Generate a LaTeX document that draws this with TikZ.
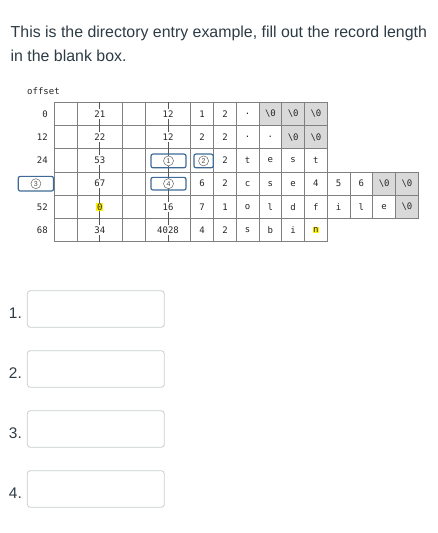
\documentclass[tikz,border=0pt]{standalone}
\usepackage{fontspec}
\setmainfont{Liberation Sans}
\newfontfamily\monof{DejaVu Sans Mono}
\definecolor{txt}{HTML}{2D3B45}
\definecolor{gridc}{HTML}{808080}
\definecolor{tickc}{HTML}{555555}
\definecolor{nulc}{HTML}{D9D9D9}
\definecolor{boxc}{HTML}{3E6A97}
\definecolor{ansc}{HTML}{C7CDD1}
\newcommand\zNul{\textbackslash 0}
\tikzset{
  titletext/.style={font=\fontsize{15.9}{18}\selectfont, text=txt, inner sep=0},
  cellline/.style={draw=gridc, line width=0.9pt},
  tickline/.style={draw=tickc, line width=0.9pt},
  val/.style={font=\monof\fontsize{9}{10}\selectfont, text=black!85, inner sep=1.5pt},
  valw/.style={val, fill=white},
  hl/.style={val, fill=yellow, inner sep=0.6pt},
  tagbox/.style={draw=boxc, line width=1.2pt, rounded corners=2pt, inner sep=0},
  circnum/.style={circle, draw=black!60, line width=0.5pt, fill=white, inner sep=0,
                  minimum size=10pt, font=\fontsize{7}{7}\selectfont, text=black!70},
  ansbox/.style={draw=ansc, line width=0.8pt, rounded corners=3pt,
                 minimum width=137pt, minimum height=36.6pt, inner sep=0},
  anslabel/.style={font=\fontsize{15.4}{18}\selectfont, text=txt, anchor=base east, inner sep=0},
}
\begin{document}
\begin{tikzpicture}[x=1pt,y=-1pt]
\useasboundingbox (0,0) rectangle (438,533);
% title
\node[titletext, anchor=base west] (t1) at (10.5,37.3) {This is the directory entry example, fill out the record length};
\node[titletext, anchor=base west] (t2) at (10.5,61.5) {in the blank box.};
\node[val, anchor=west, inner sep=0] (offh) at (27,90.7) {offset};
% null cells
\foreach \r/\c in {0/9,0/10,0/11,1/10,1/11,3/14,3/15,4/15}
  \fill[nulc] ({54.3+22.75*\c},{102.3+23.23*\r}) rectangle ++(22.75,23.23);
% grid
\foreach \r/\n in {0/12,1/12,2/12,3/16,4/16,5/12}
  \foreach \c in {1,...,\n}
    \draw[cellline] ({54.3+22.75*(\c-1)},{102.3+23.23*\r}) rectangle ++(22.75,23.23);
% centre lines of multi-byte fields
\foreach \c in {2,5}
  \draw[tickline] ({54.3+22.75*\c},102.3) -- ({54.3+22.75*\c},241.7);
% offsets
\foreach \r/\o in {0/0,1/12,2/24,4/52,5/68}
  \node[val, anchor=east] (off\r) at (49.5,{113.9+23.23*\r}) {\o};
% inode
\foreach \r/\v in {0/21,1/22,2/53,3/67,5/34}
  \node[valw] (ino\r) at (99.8,{113.9+23.23*\r}) {\v};
\node[hl] (ino4) at (99.8,{113.9+23.23*4}) {0};
% rec_len
\foreach \r/\v in {0/12,1/12,4/16,5/4028}
  \node[valw] (rec\r) at (168.05,{113.9+23.23*\r}) {\v};
% name_len
\foreach \r/\v in {0/1,1/2,3/6,4/7,5/4}
  \node[val] (nl\r) at (202.2,{113.9+23.23*\r}) {\v};
% file type
\foreach \r/\v in {0/2,1/2,2/2,3/2,4/1,5/2}
  \node[val] (ft\r) at (225,{113.9+23.23*\r}) {\v};
% names
\foreach \r/\chars in {0/{.,\zNul,\zNul,\zNul},1/{.,.,\zNul,\zNul},2/{t,e,s,t},
                       3/{c,s,e,4,5,6,\zNul,\zNul},4/{o,l,d,f,i,l,e,\zNul},5/{s,b,i}}
  \foreach \ch [count=\k from 8] in \chars
    \node[val] (nm\r-\k) at ({54.3+22.75*(\k+0.5)},{113.9+23.23*\r}) {\ch};
\node[hl] (nm5-11) at ({54.3+22.75*11.5},{113.9+23.23*5}) {n};
% marker boxes
\node[tagbox, minimum width=35pt, minimum height=13.7pt] (b1) at (168.5,160.9) {};
\node[circnum] (n1) at (b1) {1};
\node[tagbox, minimum width=19.3pt, minimum height=13.7pt] (b2) at (203.6,160.9) {};
\node[circnum] (n2) at (b2) {2};
\node[tagbox, minimum width=35.2pt, minimum height=14.7pt] (b3) at (35.9,183.7) {};
\node[circnum] (n3) at (b3) {3};
\node[tagbox, minimum width=35pt, minimum height=12.7pt] (b4) at (168.5,183.7) {};
\node[circnum] (n4) at (b4) {4};
% answer boxes
\foreach \i in {1,...,4}{
  \node[ansbox] (a\i) at (95.8,{309+60*(\i-1)}) {};
  \node[anslabel] (l\i) at (22,{318.3+60*(\i-1)}) {\i.};
}
\end{tikzpicture}
\end{document}
